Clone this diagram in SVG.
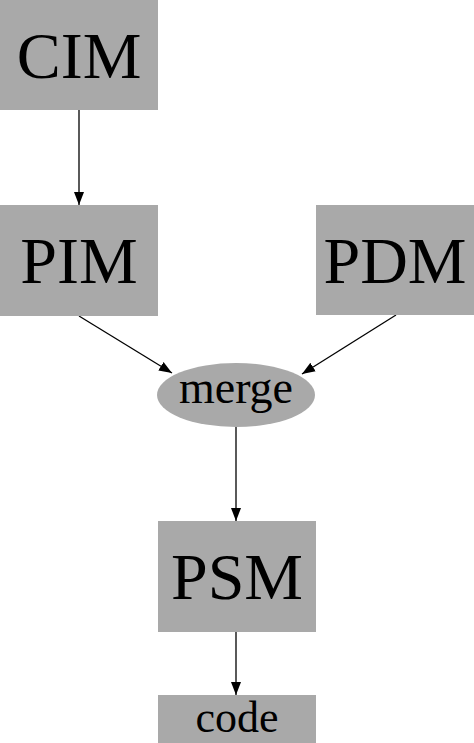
<svg xmlns="http://www.w3.org/2000/svg" width="474" height="743" viewBox="0 0 474 743">
<style>
.box{fill:#a9a9a9;}
.lbl{font-family:"Liberation Serif","DejaVu Serif",serif;fill:#000;text-anchor:middle;}
.big{font-size:66px;}
.edge{stroke:#000;stroke-width:1.3;fill:none;marker-end:url(#ah);}
</style>
<defs>
<marker id="ah" markerUnits="userSpaceOnUse" markerWidth="14" markerHeight="12" viewBox="0 0 14 12" refX="13" refY="6" orient="auto">
<path d="M0,1 L13,6 L0,11 Z" fill="#000"/>
</marker>
</defs>
<rect width="474" height="743" fill="#fff"/>
<g id="connectors">
<line class="edge" x1="79" y1="110" x2="79" y2="205"/>
<line class="edge" x1="79" y1="316" x2="172" y2="373"/>
<line class="edge" x1="396" y1="315" x2="302" y2="374"/>
<line class="edge" x1="236" y1="427" x2="236" y2="521"/>
<line class="edge" x1="236" y1="632" x2="236" y2="695"/>
</g>
<g id="CIM">
<rect class="box" x="0" y="0" width="158" height="110"/>
<text class="lbl big" x="79" y="78">CIM</text>
</g>
<g id="PIM">
<rect class="box" x="0" y="205" width="158" height="111"/>
<text class="lbl big" x="79" y="283">PIM</text>
</g>
<g id="PDM">
<rect class="box" x="316" y="205" width="158" height="110"/>
<text class="lbl big" x="395" y="283">PDM</text>
</g>
<g id="merge">
<ellipse class="box" cx="236" cy="395" rx="79" ry="32"/>
<text class="lbl" x="236" y="403" font-size="46">merge</text>
</g>
<g id="PSM">
<rect class="box" x="158" y="521" width="158" height="111"/>
<text class="lbl big" x="237" y="599">PSM</text>
</g>
<g id="code">
<rect class="box" x="158" y="695" width="158" height="48"/>
<text class="lbl" x="237" y="732" font-size="44">code</text>
</g>
</svg>
